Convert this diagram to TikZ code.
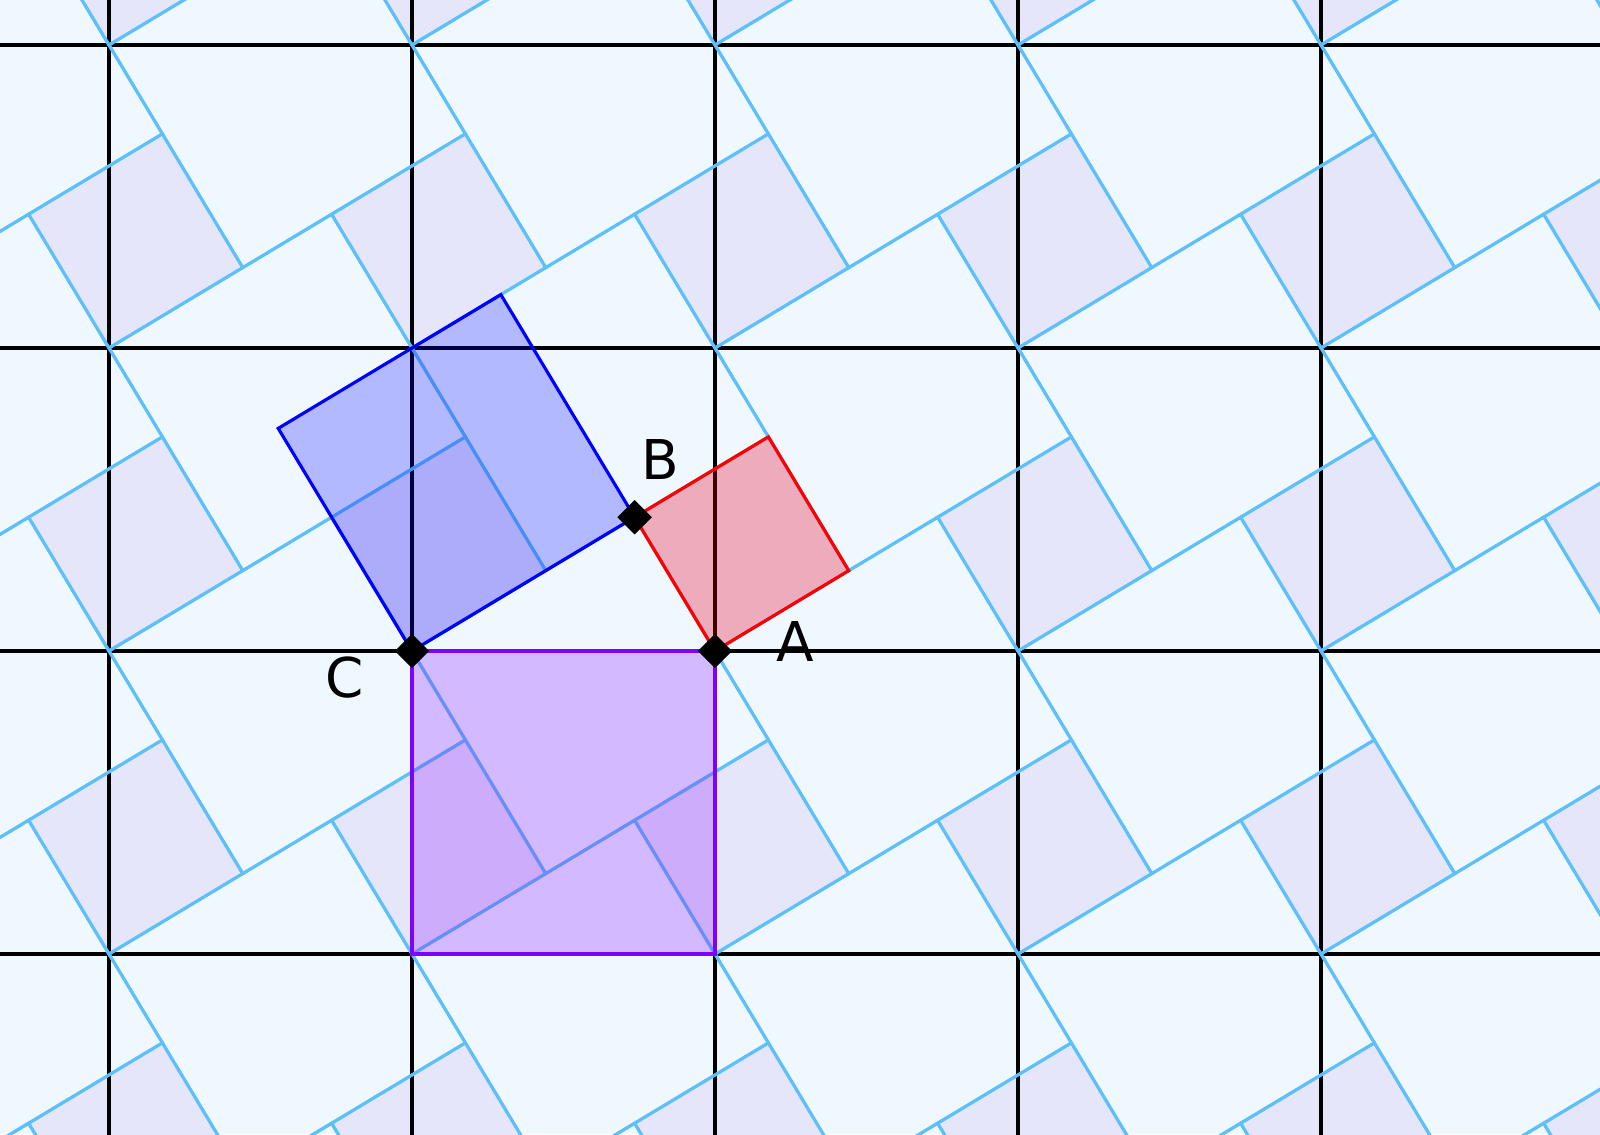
\documentclass[tikz,border=0pt]{standalone}
\usepackage{fontspec}
\setmainfont{DejaVu Sans}
\usetikzlibrary{shapes.geometric, calc}

\definecolor{tilebg}{RGB}{240,248,255}
\definecolor{tilesmall}{RGB}{230,230,250}
\definecolor{tileline}{RGB}{94,192,250}
\definecolor{sqpurple}{RGB}{128,0,255}

\begin{document}
\begin{tikzpicture}[font=\fontsize{15.6}{19}\selectfont]

        % Setup the styles for the lines and the corners
        \tikzset{corner style/.style={diamond,
                                      fill=black,
                                      inner sep=0pt,
                                      minimum size=0.35cm},
                 grid line/.style={draw=black, line width=0.9pt},
                 tile line/.style={draw=tileline, line width=0.85pt},
                 leg square/.style={line width=0.9pt, fill opacity=0.25}}

        % Sizes of the grid and of the two tiles
        \def\cellw{3.03}
        \def\ang{31}
        \pgfmathsetmacro{\sidea}{\cellw*sin(\ang)}
        \pgfmathsetmacro{\sideb}{\cellw*cos(\ang)}

        % Frame of the picture
        \useasboundingbox (-4.12,-4.83) rectangle (11.88,6.51);
        \fill[tilebg] (-4.12,-4.83) rectangle (11.88,6.51);

        \begin{scope}
        \clip (-4.12,-4.83) rectangle (11.88,6.51);

        % Fill the small tiles
        \foreach \i in {-3,...,4}
          \foreach \j in {-3,...,3}
            \fill[tilesmall] (\i*\cellw,\j*\cellw) -- ++(\ang:\sidea)
                -- ++(\ang+90:\sidea) -- ++(\ang+180:\sidea) -- cycle;

        % Draw the square grid
        \foreach \k in {-2,...,4}
          \draw[grid line] (\k*\cellw,-5) -- (\k*\cellw,7);
        \foreach \k in {-2,...,3}
          \draw[grid line] (-5,\k*\cellw) -- (12,\k*\cellw);

        % Draw the edges of both tiles
        \foreach \i in {-3,...,4}
          \foreach \j in {-3,...,3}
          {
            \draw[tile line] (\i*\cellw,\j*\cellw) -- ++(\ang:\sideb)
                -- ++(\ang-90:\sideb) -- ++(\ang+180:\sideb) -- cycle;
            \draw[tile line] (\i*\cellw,\j*\cellw) -- ++(\ang:\sidea)
                -- ++(\ang+90:\sidea) -- ++(\ang+180:\sidea) -- cycle;
          }
        \end{scope}

        % Corners of the triangle
        \coordinate (C) at (0,0);
        \coordinate (A) at (\cellw,0);
        \coordinate (B) at (\ang:\sideb);

        % Squares on the three sides
        \filldraw[leg square, draw=sqpurple, fill=sqpurple]
            (C) rectangle ($(A)+(0,-\cellw)$);
        \filldraw[leg square, draw=blue, fill=blue]
            (C) -- (B) -- ++(\ang+90:\sideb) -- ++(\ang+180:\sideb) -- cycle;
        \filldraw[leg square, draw=red, fill=red]
            (A) -- ++(\ang:\sidea) -- ++(\ang+90:\sidea) -- (B) -- cycle;

        % Draw the corners
        \node[corner style] (dotA) at (A) {};
        \node[corner style] (dotB) at (B) {};
        \node[corner style] (dotC) at (C) {};

        % Names of the corners
        \node (labelA) at (3.83,0.09)   {A};
        \node (labelB) at (2.48,1.91)   {B};
        \node (labelC) at (-0.67,-0.27) {C};

\end{tikzpicture}
\end{document}
